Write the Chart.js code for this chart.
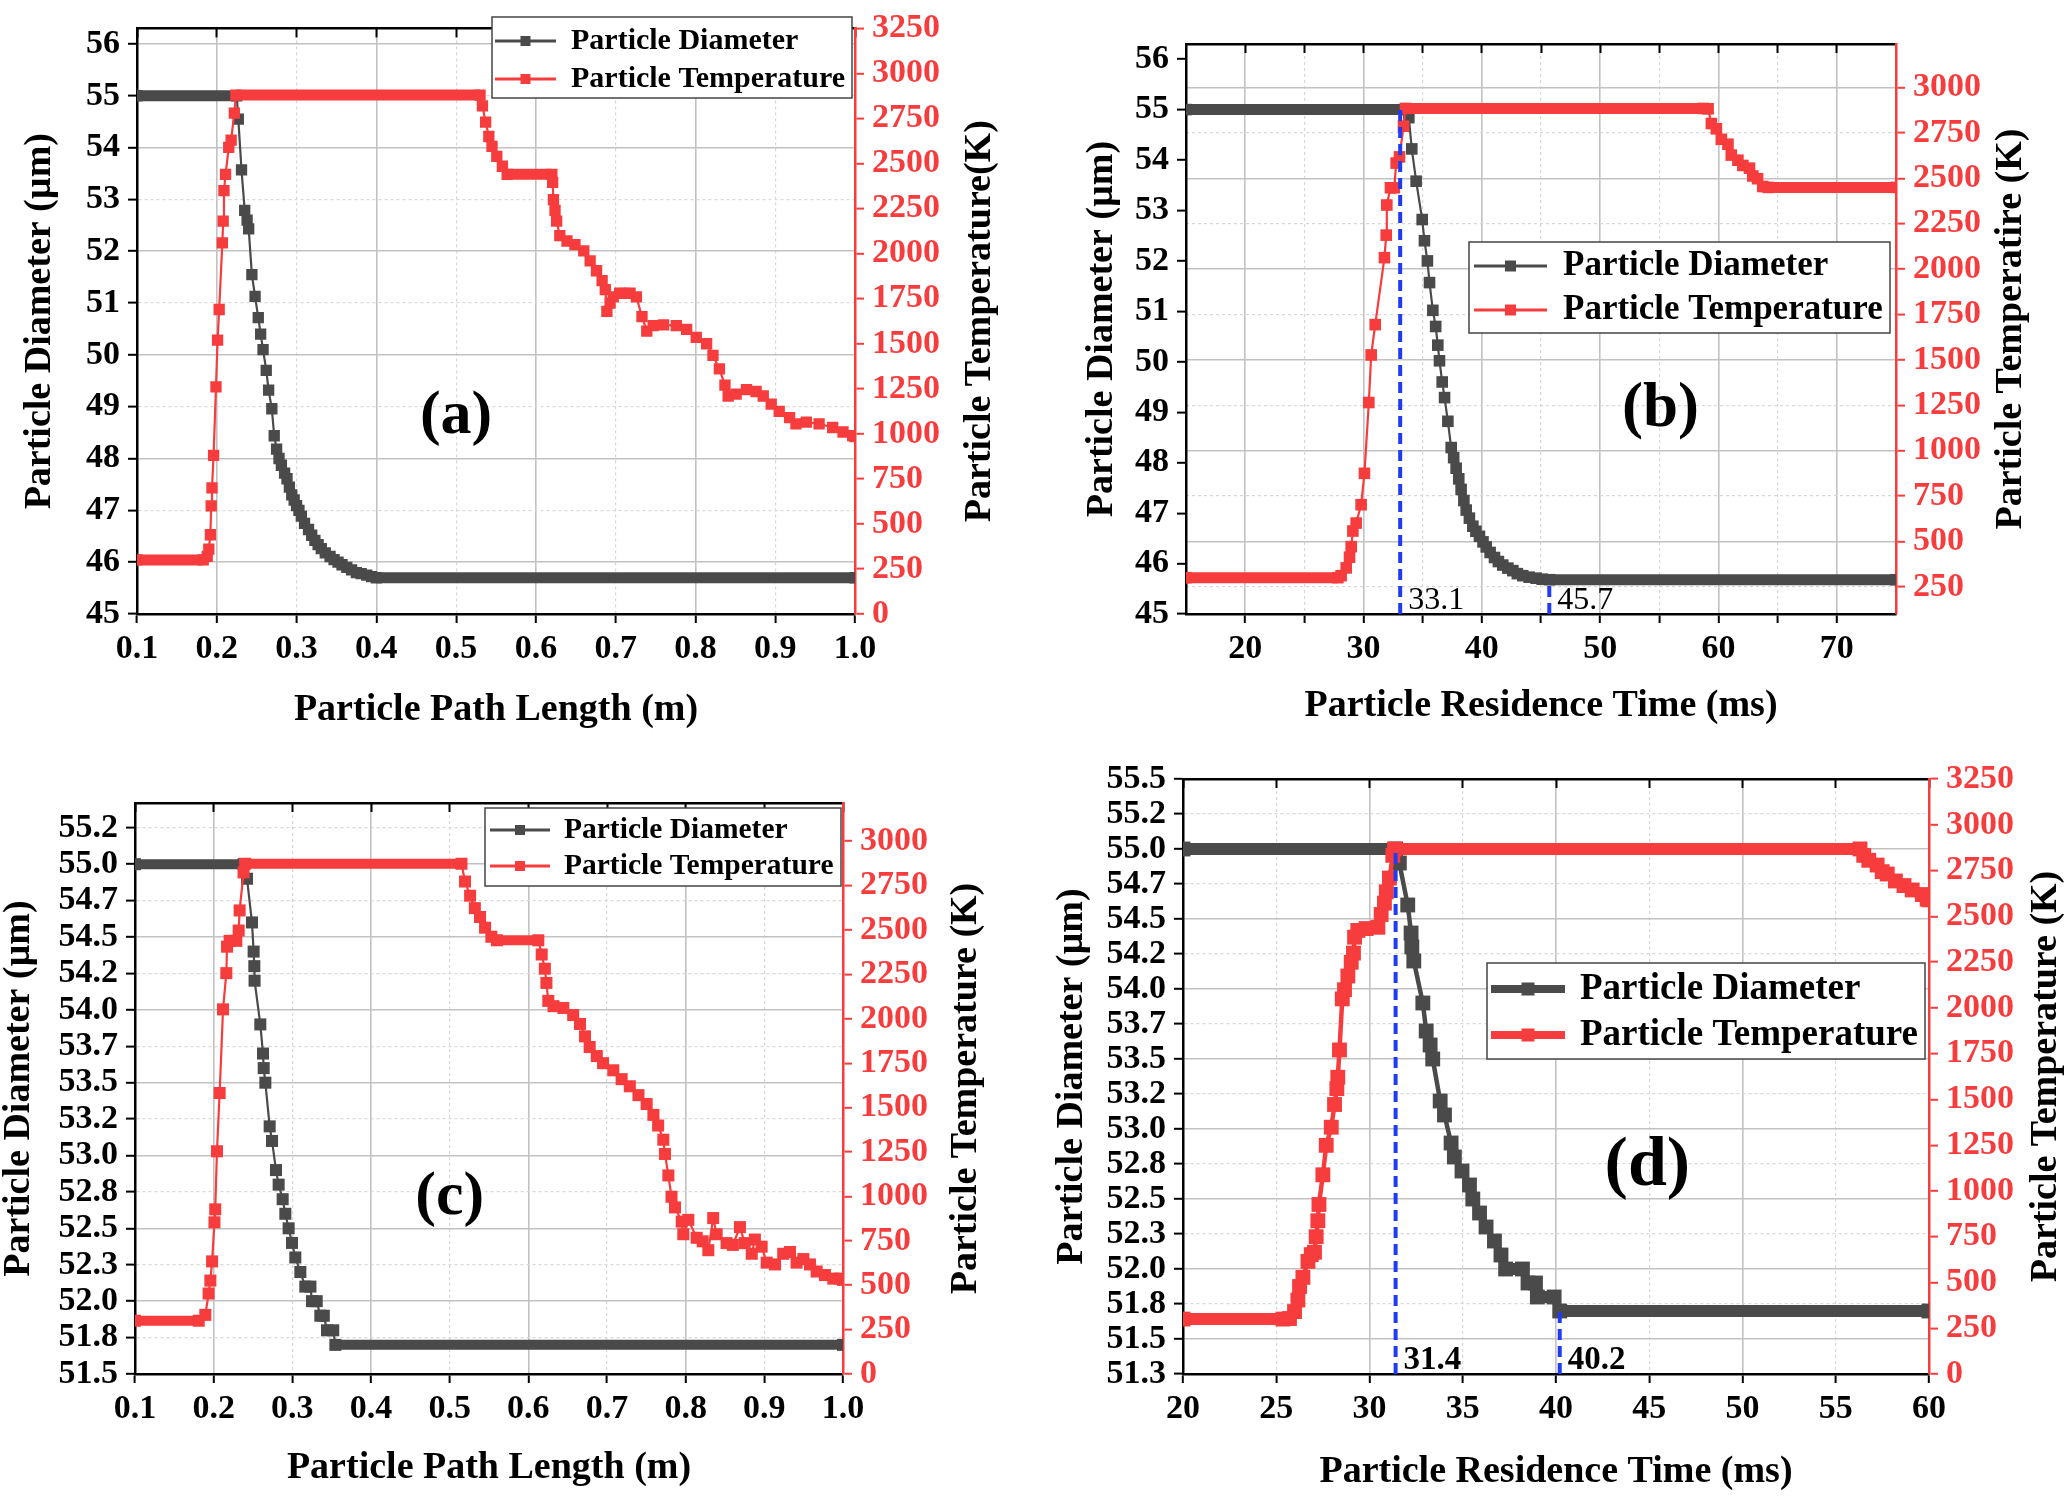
<!DOCTYPE html>
<html>
<head>
<meta charset="utf-8">
<script src="https://cdn.jsdelivr.net/npm/chart.js@4.4.0/dist/chart.umd.min.js"></script>
<style>
  body { margin: 0; background: #fff; overflow: hidden; }
  canvas { position: absolute; }
</style>
</head>
<body>
<canvas id="chartA" width="1035" height="740" style="left:0;top:0"></canvas>
<canvas id="chartB" width="1035" height="740" style="left:1035px;top:0"></canvas>
<canvas id="chartC" width="1035" height="758" style="left:0;top:740px"></canvas>
<canvas id="chartD" width="1035" height="758" style="left:1035px;top:740px"></canvas>
<script>
// ---- data: [x, value] ----
// (a) vs particle path length (m)
const diaA = [[0.1,55],[0.225,55],[0.227,54.55],[0.231,53.57],[0.235,52.79],[0.238,52.6],[0.24,52.43],[0.244,51.55],[0.248,51.13],[0.252,50.72],[0.255,50.4],[0.258,50.1],[0.262,49.7],[0.265,49.32],[0.269,48.96],[0.272,48.44],[0.275,48.18],[0.278,48.0],[0.281,47.87],[0.285,47.72],[0.288,47.61],[0.291,47.45],[0.294,47.3],[0.297,47.2],[0.3,47.09],[0.303,47.0],[0.306,46.89],[0.31,46.75],[0.315,46.63],[0.319,46.52],[0.323,46.42],[0.327,46.34],[0.331,46.26],[0.336,46.18],[0.342,46.11],[0.347,46.05],[0.352,46.0],[0.357,45.95],[0.363,45.9],[0.369,45.85],[0.375,45.8],[0.381,45.78],[0.388,45.75],[0.394,45.72],[0.4,45.7],[1.0,45.7]];
const tempA = [[0.1,300],[0.183,300],[0.188,320],[0.19,360],[0.192,440],[0.193,600],[0.194,700],[0.196,880],[0.199,1260],[0.201,1520],[0.203,1690],[0.207,2060],[0.208,2180],[0.209,2350],[0.211,2440],[0.215,2590],[0.218,2630],[0.222,2780],[0.224,2880],[0.53,2880],[0.533,2820],[0.537,2730],[0.541,2650],[0.545,2595],[0.551,2540],[0.558,2485],[0.564,2440],[0.62,2440],[0.621,2395],[0.622,2300],[0.624,2240],[0.626,2180],[0.63,2100],[0.639,2070],[0.649,2050],[0.66,2015],[0.668,1960],[0.676,1905],[0.683,1850],[0.687,1800],[0.689,1680],[0.693,1725],[0.697,1760],[0.705,1780],[0.718,1780],[0.726,1760],[0.733,1650],[0.739,1570],[0.747,1600],[0.76,1605],[0.776,1600],[0.789,1580],[0.801,1535],[0.814,1500],[0.822,1435],[0.83,1360],[0.837,1270],[0.841,1210],[0.851,1220],[0.864,1245],[0.876,1235],[0.885,1210],[0.895,1165],[0.905,1125],[0.918,1090],[0.926,1055],[0.939,1065],[0.955,1055],[0.972,1035],[0.985,1010],[0.997,990],[1.0,985]];

// (b) vs particle residence time (ms)
const diaB = [[15,55],[33.5,55],[33.83,54.84],[34.08,54.22],[34.45,53.58],[34.96,52.82],[35.15,52.4],[35.4,52.0],[35.58,51.57],[35.86,51.02],[36.1,50.7],[36.28,50.33],[36.42,50.02],[36.65,49.6],[36.85,49.29],[37.13,48.82],[37.41,48.3],[37.62,48.1],[37.83,47.89],[38.05,47.68],[38.25,47.47],[38.48,47.25],[38.68,47.06],[38.95,46.9],[39.24,46.74],[39.5,46.64],[39.8,46.54],[40.1,46.43],[40.37,46.33],[40.7,46.22],[41.07,46.12],[41.4,46.04],[41.77,45.97],[42.2,45.91],[42.62,45.86],[43.0,45.8],[43.46,45.76],[44.0,45.73],[44.59,45.71],[45.1,45.69],[45.72,45.68],[75,45.68]];
const tempB = [[15,300],[27.83,300],[28.11,311],[28.54,354],[28.82,413],[28.96,471],[29.1,557],[29.38,601],[29.8,702],[30.08,875],[30.45,1265],[30.65,1527],[30.99,1694],[31.77,2063],[31.92,2187],[31.97,2353],[32.28,2448],[32.6,2448],[32.76,2584],[33.04,2618],[33.38,2787],[33.55,2885],[58.7,2885],[59.12,2883],[59.4,2802],[59.82,2773],[60.24,2715],[60.8,2688],[61.08,2628],[61.64,2600],[62.06,2571],[62.62,2556],[62.9,2513],[63.3,2498],[63.74,2455],[64.2,2450],[75,2450]];

// (c) vs particle path length (m)
const diaC = [[0.1,55],[0.238,55],[0.2424,54.9],[0.2487,54.6],[0.2508,54.4],[0.2517,54.3],[0.252,54.2],[0.2593,53.9],[0.2627,53.7],[0.2636,53.6],[0.2657,53.5],[0.2712,53.2],[0.2742,53.1],[0.2792,52.9],[0.2826,52.8],[0.2877,52.7],[0.2911,52.6],[0.2953,52.5],[0.2996,52.4],[0.3038,52.3],[0.3102,52.2],[0.3165,52.1],[0.323,52.1],[0.325,52.0],[0.331,52.0],[0.3356,51.9],[0.34,51.9],[0.3441,51.8],[0.352,51.8],[0.3547,51.7],[1.0,51.7]];
const tempC = [[0.1,300],[0.181,300],[0.1894,333],[0.1936,453],[0.1958,526],[0.198,634],[0.201,854],[0.202,927],[0.2042,1254],[0.2076,1582],[0.2119,2053],[0.2161,2257],[0.217,2406],[0.2203,2439],[0.2288,2439],[0.2318,2497],[0.233,2610],[0.238,2824],[0.24,2873],[0.515,2873],[0.5195,2773],[0.526,2693],[0.532,2623],[0.5386,2573],[0.545,2513],[0.553,2462],[0.56,2442],[0.6127,2442],[0.617,2362],[0.621,2282],[0.623,2202],[0.6254,2101],[0.632,2071],[0.6445,2061],[0.657,2021],[0.6657,1971],[0.672,1901],[0.678,1841],[0.687,1790],[0.695,1750],[0.708,1710],[0.7186,1660],[0.729,1620],[0.74,1570],[0.7504,1520],[0.759,1459],[0.765,1399],[0.7716,1319],[0.7737,1239],[0.778,1118],[0.782,998],[0.7864,938],[0.795,858],[0.797,787],[0.8034,868],[0.814,767],[0.8216,747],[0.8288,697],[0.835,878],[0.8394,787],[0.852,737],[0.86,727],[0.869,827],[0.875,737],[0.884,677],[0.888,757],[0.8966,717],[0.903,627],[0.9136,617],[0.924,677],[0.9326,687],[0.941,627],[0.9496,647],[0.958,617],[0.9665,577],[0.977,557],[0.9877,537],[0.996,537],[1.0,530]];

// (d) vs particle residence time (ms)
const diaD = [[20,55],[31.4,55],[31.6,54.9],[32.05,54.6],[32.23,54.4],[32.27,54.3],[32.375,54.2],[32.86,53.9],[33.04,53.7],[33.25,53.6],[33.39,53.5],[33.79,53.2],[34.02,53.1],[34.375,52.9],[34.55,52.8],[34.96,52.7],[35.36,52.6],[35.54,52.5],[35.9,52.4],[36.25,52.3],[36.7,52.2],[37.05,52.1],[37.3,52.0],[38.2,52.0],[38.5,51.9],[38.9,51.9],[39.0,51.8],[39.9,51.8],[40.2,51.7],[60,51.7]];
const tempD = [[20,300],[25.36,300],[25.71,303],[25.98,341],[26.16,404],[26.25,478],[26.43,528],[26.7,615],[26.875,652],[27.05,665],[27.14,750],[27.23,837],[27.29,926],[27.5,1088],[27.68,1249],[27.95,1348],[28.125,1472],[28.25,1559],[28.3,1621],[28.39,1770],[28.54,2049],[28.66,2099],[28.84,2174],[29.02,2249],[29.14,2299],[29.2,2386],[29.375,2423],[29.82,2433],[30.45,2440],[30.625,2510],[30.8,2572],[30.9,2634],[31.07,2709],[31.25,2833],[31.34,2868],[56.3,2868],[56.5,2833],[56.77,2806],[57.22,2780],[57.49,2744],[57.76,2731],[58.2,2693],[58.66,2668],[59.1,2644],[59.64,2619],[59.9,2594],[60,2590]];

// marked times [time, diameter reached]
const marksB = [[33.1, 55], [45.7, 45.68]];
const marksD = [[31.4, 55], [40.2, 51.7]];

// ---- tick values and labels ----
const lenTicks = [0.1,0.2,0.3,0.4,0.5,0.6,0.7,0.8,0.9,1.0];
const diaTicksAB = [45,46,47,48,49,50,51,52,53,54,55,56];
const tempTicksAD = [0,250,500,750,1000,1250,1500,1750,2000,2250,2500,2750,3000,3250];
const timeTicksB = [20,25,30,35,40,45,50,55,60,65,70];
const tempTicksB = [250,500,750,1000,1250,1500,1750,2000,2250,2500,2750,3000];
const diaTicksC = [51.5,51.75,52,52.25,52.5,52.75,53,53.25,53.5,53.75,54,54.25,54.5,54.75,55,55.25];
const diaLabelsC = ['51.5','51.8','52.0','52.3','52.5','52.8','53.0','53.2','53.5','53.7','54.0','54.2','54.5','54.7','55.0','55.2'];
const tempTicksC = [0,250,500,750,1000,1250,1500,1750,2000,2250,2500,2750,3000];
const timeTicksD = [20,25,30,35,40,45,50,55,60];
const diaTicksD = [51.25,51.5,51.75,52,52.25,52.5,52.75,53,53.25,53.5,53.75,54,54.25,54.5,54.75,55,55.25,55.5];
const diaLabelsD = ['51.3','51.5','51.8','52.0','52.3','52.5','52.8','53.0','53.2','53.5','53.7','54.0','54.2','54.5','54.7','55.0','55.2','55.5'];

const FONT = 'Liberation Serif';
const GRAY = '#4a4a4a';
const RED = '#f63c3c';
const BLUE = '#1f3cf2';

Chart.defaults.font.family = FONT;
Chart.defaults.font.weight = 'bold';
Chart.defaults.color = '#000';

function pts(arr) { return arr.map(p => ({ x: p[0], y: p[1] })); }
function fixed(vals) { return axis => { axis.ticks = vals.map(v => ({ value: v })); }; }
function onStep(v, step) { const r = v / step; return Math.abs(r - Math.round(r)) < 1e-6; }

// major grid solid, minor dotted
function grid(step, show, tickColor) {
  return {
    drawOnChartArea: show,
    color: ctx => ctx.tick && onStep(ctx.tick.value, step) ? '#c2c2c2' : '#d8d8d8',
    lineWidth: ctx => ctx.tick && onStep(ctx.tick.value, step) ? 1.6 : 1.2,
    tickLength: 9, tickWidth: 2, tickColor: tickColor
  };
}
function border(color, step) {
  return { color: color, width: 2.5, dash: ctx => ctx.tick && !onStep(ctx.tick.value, step) ? [3, 3] : [] };
}

const decor = {
  id: 'decor',
  afterDraw(chart, args, o) {
    const { ctx, scales } = chart;
    const x = scales.x, y = scales.y, r = scales.y1;
    ctx.save();
    // right axis title reads upwards like the left one
    ctx.fillStyle = '#000';
    ctx.font = 'bold 38px ' + FONT;
    ctx.textAlign = 'center';
    ctx.textBaseline = 'middle';
    ctx.translate(r.right - 19, (r.top + r.bottom) / 2);
    ctx.rotate(-Math.PI / 2);
    ctx.fillText(o.rightTitle, 0, 0);
    ctx.restore();

    ctx.save();
    ctx.fillStyle = '#000';
    ctx.textAlign = 'center';
    ctx.textBaseline = 'middle';
    ctx.font = 'bold ' + o.tagSize + 'px ' + FONT;
    ctx.fillText(o.tag, x.getPixelForValue(o.tagAt[0]), y.getPixelForValue(o.tagAt[1]));

    ctx.textAlign = 'left';
    ctx.textBaseline = 'alphabetic';
    ctx.font = o.markFont;
    o.marks.forEach(m => ctx.fillText(String(m[0]), x.getPixelForValue(m[0]) + 8, y.bottom - 5));

    // legend box, diameter entry first
    const L = o.legend;
    ctx.fillStyle = '#fff';
    ctx.fillRect(L.x, L.y, L.w, L.h);
    ctx.strokeStyle = '#444';
    ctx.lineWidth = 1.5;
    ctx.strokeRect(L.x, L.y, L.w, L.h);
    const entries = chart.data.datasets.filter(d => d.label).sort((a, b) => a.label.localeCompare(b.label));
    entries.forEach((d, i) => {
      const cy = L.rows[i];
      ctx.strokeStyle = d.borderColor;
      ctx.lineWidth = L.line;
      ctx.beginPath();
      ctx.moveTo(L.x0, cy);
      ctx.lineTo(L.x1, cy);
      ctx.stroke();
      ctx.fillStyle = d.borderColor;
      const mid = (L.x0 + L.x1) / 2;
      ctx.fillRect(mid - L.mark / 2, cy - L.mark / 2, L.mark, L.mark);
      ctx.fillStyle = '#000';
      ctx.font = 'bold ' + L.size + 'px ' + FONT;
      ctx.textBaseline = 'middle';
      ctx.fillText(d.label, L.tx, cy);
    });
    ctx.restore();
  }
};

function series(label, data, color, axis, p) {
  return {
    label: label, data: pts(data), yAxisID: axis,
    borderColor: color, backgroundColor: color,
    pointStyle: 'rect', pointRadius: p.mark, pointBorderWidth: 0,
    borderWidth: p.line, tension: 0,
    segment: { borderWidth: ctx => Math.abs(ctx.p0.y - ctx.p1.y) < 0.5 ? p.band : p.line }
  };
}

function panel(id, p) {
  const marks = p.marks.map(m => ({
    data: [{ x: m[0], y: p.y[0] }, { x: m[0], y: m[1] }], yAxisID: 'y',
    borderColor: BLUE, borderWidth: 4, borderDash: [11, 6], pointRadius: 0
  }));
  const titleFont = { size: 38, weight: 'bold', lineHeight: 1 };
  const tickFont = { size: 34, weight: 'bold' };
  return new Chart(document.getElementById(id), {
    type: 'line',
    data: {
      // first drawn last: blue marks on top, then temperature, then diameter
      datasets: marks.concat([
        series('Particle Temperature', p.temp, RED, 'y1', p),
        series('Particle Diameter', p.dia, GRAY, 'y', p)
      ])
    },
    options: {
      responsive: false, animation: false, events: [], devicePixelRatio: 1,
      layout: { padding: p.pad, autoPadding: false },
      plugins: {
        legend: { display: false }, tooltip: { enabled: false },
        decor: {
          rightTitle: p.rightTitle, tag: p.tag, tagAt: p.tagAt, tagSize: p.tagSize,
          marks: p.marks, markFont: p.markFont, legend: p.legend
        }
      },
      scales: {
        x: {
          type: 'linear', min: p.x[0], max: p.x[1],
          afterBuildTicks: fixed(p.xTicks), afterFit: s => { s.height = p.hb; },
          ticks: { autoSkip: false, maxRotation: 0, padding: 6, font: tickFont, color: '#000', callback: p.xLabel },
          grid: grid(p.xMajor, true, '#000'), border: border('#000', p.xMajor),
          title: { display: true, text: p.xTitle, font: titleFont, padding: 0, color: '#000' }
        },
        xTop: {
          type: 'linear', position: 'top', min: p.x[0], max: p.x[1],
          afterBuildTicks: fixed(p.xTicks), afterFit: s => { s.height = 0; },
          ticks: { display: false },
          grid: { drawOnChartArea: false, tickLength: -9, tickWidth: 2, tickColor: '#000' },
          border: { color: '#000', width: 2.5 }
        },
        y: {
          type: 'linear', position: 'left', min: p.y[0], max: p.y[1],
          afterBuildTicks: fixed(p.yTicks), afterFit: s => { s.width = p.wl; },
          ticks: { autoSkip: false, padding: 8, font: tickFont, color: '#000', callback: p.yLabel },
          grid: grid(p.yMajor, p.yGrid, '#000'), border: border('#000', p.yMajor),
          title: { display: true, text: 'Particle Diameter (µm)', font: titleFont, padding: 0, color: '#000' }
        },
        y1: {
          type: 'linear', position: 'right', min: p.t[0], max: p.t[1],
          afterBuildTicks: fixed(p.tTicks), afterFit: s => { s.width = p.wr; },
          ticks: { autoSkip: false, padding: 8, font: tickFont, color: RED, callback: v => v },
          grid: grid(500, p.tGrid, RED), border: border(RED, 500)
        }
      }
    },
    plugins: [decor]
  });
}

panel('chartA', {
  dia: diaA, temp: tempA, marks: [],
  x: [0.1, 1.0], y: [45, 56.3], t: [0, 3250],
  xTicks: lenTicks, yTicks: diaTicksAB, tTicks: tempTicksAD,
  xLabel: v => v.toFixed(1), yLabel: v => v,
  xMajor: 0.2, yMajor: 2, yGrid: true, tGrid: false,
  xTitle: 'Particle Path Length (m)', rightTitle: 'Particle Temperature(K)',
  pad: { left: 21, right: 36, top: 15, bottom: 11 }, wl: 116, wr: 144, hb: 115,
  mark: 8, band: 11, line: 2.2,
  tag: '(a)', tagAt: [0.5, 48.8], tagSize: 62, markFont: '32px ' + FONT,
  legend: { x: 492, y: 17, w: 360, h: 81, x0: 495, x1: 556, tx: 571, rows: [41, 79], size: 30, line: 3, mark: 10 }
});

panel('chartB', {
  dia: diaB, temp: tempB, marks: marksB,
  x: [15, 75], y: [45, 56.3], t: [100, 3240],
  xTicks: timeTicksB, yTicks: diaTicksAB, tTicks: tempTicksB,
  xLabel: v => (v % 10 === 0 ? v : ''), yLabel: v => v,
  xMajor: 10, yMajor: 2, yGrid: false, tGrid: true,
  xTitle: 'Particle Residence Time (ms)', rightTitle: 'Particle Temperatire (K)',
  pad: { left: 48, right: 40, top: 44, bottom: 15 }, wl: 103, wr: 134, hb: 111,
  mark: 8.2, band: 11, line: 2.2,
  tag: '(b)', tagAt: [55.1, 49.05], tagSize: 63, markFont: '32px ' + FONT,
  legend: { x: 434, y: 242, w: 421, h: 91, x0: 439, x1: 512, tx: 528, rows: [266, 310], size: 35, line: 3, mark: 11 }
});

panel('chartC', {
  dia: diaC, temp: tempC, marks: [],
  x: [0.1, 1.0], y: [51.5, 55.42], t: [0, 3215],
  xTicks: lenTicks, yTicks: diaTicksC, tTicks: tempTicksC,
  xLabel: v => v.toFixed(1), yLabel: (v, i) => diaLabelsC[i],
  xMajor: 0.2, yMajor: 0.5, yGrid: true, tGrid: false,
  xTitle: 'Particle Path Length (m)', rightTitle: 'Particle Temperature (K)',
  pad: { left: 0, right: 50, top: 63, bottom: 11 }, wl: 135, wr: 142, hb: 113,
  mark: 8.5, band: 10, line: 2.2,
  tag: '(c)', tagAt: [0.5, 52.71], tagSize: 62, markFont: '32px ' + FONT,
  legend: { x: 485, y: 68, w: 356, h: 78, x0: 490, x1: 550, tx: 564, rows: [90, 126], size: 29.5, line: 3, mark: 10 }
});

panel('chartD', {
  dia: diaD, temp: tempD, marks: marksD,
  x: [20, 60], y: [51.25, 55.5], t: [0, 3250],
  xTicks: timeTicksD, yTicks: diaTicksD, tTicks: tempTicksAD,
  xLabel: v => v, yLabel: (v, i) => diaLabelsD[i],
  xMajor: 10, yMajor: 0.5, yGrid: true, tGrid: false,
  xTitle: 'Particle Residence Time (ms)', rightTitle: 'Particle Temperature (K)',
  pad: { left: 18, right: 5, top: 39, bottom: 7 }, wl: 130, wr: 136, hb: 117,
  mark: 10.5, band: 12, line: 4.5,
  tag: '(d)', tagAt: [44.9, 52.73], tagSize: 70, markFont: 'bold 33px ' + FONT,
  legend: { x: 452, y: 223, w: 438, h: 96, x0: 456, x1: 530, tx: 545, rows: [249, 295], size: 37, line: 8, mark: 13 }
});
</script>
</body>
</html>
